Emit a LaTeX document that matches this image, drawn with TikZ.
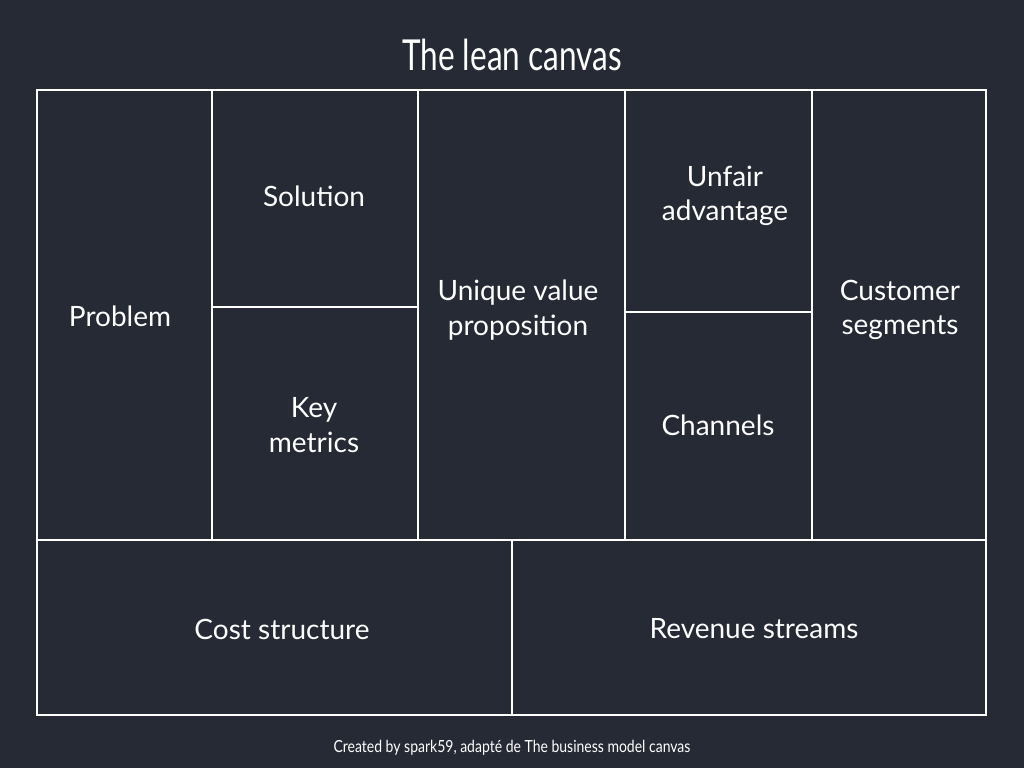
\documentclass[tikz,border=0pt]{standalone}
\usepackage{fontspec}
\setmainfont{Lato}
\usepackage{xcolor}
\usetikzlibrary{positioning}
\definecolor{canvasbg}{HTML}{252A34}

\begin{document}
\begin{tikzpicture}[
      x=0.75pt, y=-0.75pt,
      grid/.style={draw=white, line width=1.5pt},
      lbl/.style={text=white, align=center, font=\fontsize{21}{26}\selectfont},
      ttl/.style={text=white, font=\fontsize{32}{36}\selectfont},
      note/.style={text=white, font=\fontsize{12.5}{14}\selectfont},
    ]
    % ---- page ----
    \fill[canvasbg] (0,0) rectangle (1024,768);
    \useasboundingbox (0,0) rectangle (1024,768);

    % ---- frame corners and split points ----
    \coordinate (tl) at (37,90);
    \coordinate (br) at (986,715);
    \coordinate (ml) at (37,540);
    \coordinate (mr) at (986,540);
    \coordinate (c1t) at (212,90);  \coordinate (c1b) at (212,540);
    \coordinate (c2t) at (418,90);  \coordinate (c2b) at (418,540);
    \coordinate (c3t) at (625,90);  \coordinate (c3b) at (625,540);
    \coordinate (c4t) at (812,90);  \coordinate (c4b) at (812,540);
    \coordinate (s1l) at (212,307); \coordinate (s1r) at (418,307);
    \coordinate (s2l) at (625,312); \coordinate (s2r) at (812,312);
    \coordinate (bmt) at (512,540); \coordinate (bmb) at (512,715);

    % ---- grid lines ----
    \draw[grid] (tl) rectangle (br);
    \draw[grid] (ml) -- (mr);
    \draw[grid] (c1t) -- (c1b);
    \draw[grid] (c2t) -- (c2b);
    \draw[grid] (c3t) -- (c3b);
    \draw[grid] (c4t) -- (c4b);
    \draw[grid] (s1l) -- (s1r);
    \draw[grid] (s2l) -- (s2r);
    \draw[grid] (bmt) -- (bmb);

    % ---- title and footer ----
    \node[ttl] (title) at (512,55) {\scalebox{0.74}[1]{The lean canvas}};
    \node[note] (credit) at (512,748)
      {\scalebox{0.84}[1]{Created by spark59, adapté de The business model canvas}};

    % ---- block labels ----
    \node[lbl] (problem)  at (120,316) {Problem};
    \node[lbl] (solution) at (314,196) {Solution};
    \node[lbl] (metrics)  at (314,425) {Key\\metrics};
    \node[lbl] (uvp)      at (518,310) {Unique value\\proposition};
    \node[lbl] (unfair)   at (725,196) {Unfair\\advantage};
    \node[lbl] (channels) at (718,425) {Channels};
    \node[lbl] (segments) at (900,310) {Customer\\segments};
    \node[lbl] (cost)     at (282,629) {Cost structure};
    \node[lbl] (revenue)  at (754,629) {Revenue streams};
  \end{tikzpicture}
\end{document}
